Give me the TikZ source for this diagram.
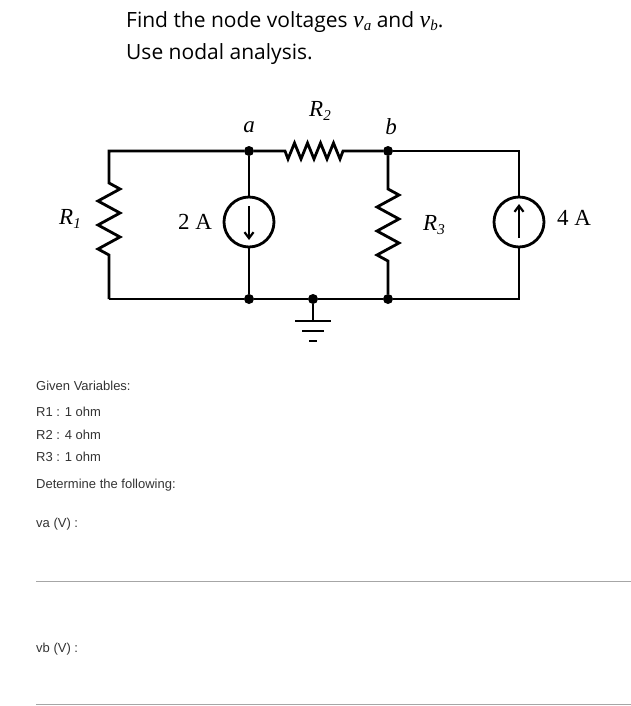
\documentclass[tikz,border=0pt]{standalone}
\usepackage{fontspec}
\usetikzlibrary{arrows.meta}
\setmainfont{Liberation Serif}
\newfontfamily\opensans{Open Sans}
\newfontfamily\arialf{Liberation Sans}
\newcommand{\itl}[2]{\textit{#1}\raisebox{-0.3ex}{\fontsize{15}{16}\selectfont\textit{#2}}}
\begin{document}
\begin{tikzpicture}[x=1pt,y=-1pt,
  w/.style={line width=2.8pt},
  dot/.style={circle,fill=black,inner sep=0pt,minimum size=10pt},
  src/.style={circle,draw,line width=2.8pt,minimum size=50pt,inner sep=0pt},
  lbl/.style={font=\fontsize{23}{25}\selectfont},
  gv/.style={font=\arialf\fontsize{13}{15}\selectfont,text=black!80,anchor=west,inner sep=0pt},
  ttl/.style={font=\opensans\fontsize{21}{24}\selectfont,anchor=west,inner sep=0pt}]
\useasboundingbox (0,0) rectangle (631,706);
\node[ttl] (t1) at (126,22) {Find the node voltages {\rmfamily\fontsize{24}{24}\selectfont\itl{v}{a}} and {\rmfamily\fontsize{24}{24}\selectfont\itl{v}{b}}.};
\node[ttl] (t2) at (126,54) {Use nodal analysis.};
% nodes
\coordinate (tl) at (109,151); \coordinate (bl) at (109,299);
\node[dot] (a) at (249,151) {}; \node[dot] (b) at (388,151) {};
\node[dot] (ga) at (249,299) {}; \node[dot] (g) at (313,299) {}; \node[dot] (gb) at (388,299) {};
\coordinate (tr) at (519,151); \coordinate (br) at (519,299);
\node[src] (s2) at (249,222) {}; \node[src] (s4) at (519,222) {};
% wires
\draw[w] (bl) -- (109,255) -- ++(-11,-6) -- ++(22,-12) -- ++(-22,-12) -- ++(22,-12) -- ++(-22,-12) -- ++(22,-12) -- ++(-11,-6) -- (tl) -- (a);
\draw[w] (a) -- (285,151) -- ++(3,8) -- ++(6.5,-16) -- ++(6.5,16) -- ++(6.5,-16) -- ++(6.5,16) -- ++(6.5,-16) -- ++(6.5,16) -- ++(6.5,-16) -- ++(6.5,16) -- ++(3,-8) -- (b);
\draw[w] (b) -- (tr) -- (s4.north); \draw[w] (s4.south) -- (br) -- (gb) -- (g) -- (ga) -- (bl);
\draw[w] (a) -- (s2.north); \draw[w] (s2.south) -- (ga);
\draw[w] (b) -- (388,189) -- ++(11,6) -- ++(-22,12) -- ++(22,12) -- ++(-22,12) -- ++(22,12) -- ++(-22,12) -- ++(11,6) -- (gb);
\draw[line width=2.2pt,-{Straight Barb[length=6pt,width=9pt]}] (249,206) -- (249,240);
\draw[line width=2.2pt,-{Straight Barb[length=6pt,width=9pt]}] (519,238) -- (519,204);
\draw[w] (g) -- (313,321);
\draw[w] (295,321) -- (331,321) (302,331) -- (324,331) (309,341) -- (317,341);
% labels
\node[lbl] (la) at (249,127) {\textit{a}};
\node[lbl] (lb) at (391,127) {\textit{b}};
\node[lbl] (lr2) at (320,111) {\itl{R}{2}};
\node[lbl] (lr1) at (70,219) {\itl{R}{1}};
\node[lbl] (l2a) at (195,222) {2 A};
\node[lbl] (lr3) at (434,225) {\itl{R}{3}};
\node[lbl] (l4a) at (574,218) {4 A};
% text
\node[gv] (g1) at (36,386) {Given Variables:};
\node[gv] (g2) at (36,412) {R1 : 1 ohm};
\node[gv] (g3) at (36,435) {R2 : 4 ohm};
\node[gv] (g4) at (36,457) {R3 : 1 ohm};
\node[gv] (g5) at (36,485) {Determine the following:};
\node[gv] (g6) at (36,524) {va (V) :};
\node[gv] (g7) at (36,649) {vb (V) :};
\draw[black!35,line width=0.8pt] (36,581) -- (631,581) (36,704) -- (631,704);
\end{tikzpicture}
\end{document}
